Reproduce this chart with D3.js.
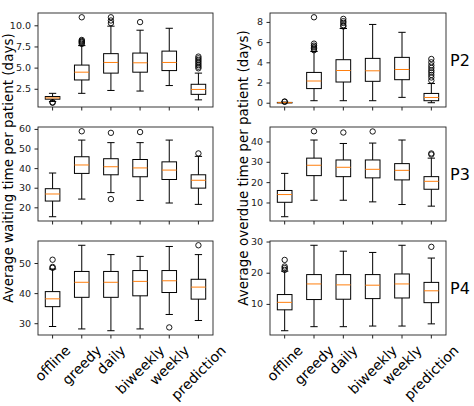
<!DOCTYPE html>
<html>
<head>
<meta charset="utf-8">
<script src="https://cdn.jsdelivr.net/npm/d3@7"></script>
<style>
  body { margin: 0; background: #fff; }
  text { font-family: "DejaVu Sans", sans-serif; }
</style>
</head>
<body>
<svg id="chart" width="474" height="406"></svg>
<script>
'use strict'

const categories = ['offline', 'greedy', 'daily', 'biweekly', 'weekly', 'prediction']
const rowNames = ['P2', 'P3', 'P4']

// [lower whisker, q1, median, q3, upper whisker] per category
const waitP2 = [[1.0, 1.27, 1.42, 1.58, 1.96], [1.96, 3.54, 4.46, 5.3, 7.6], [2.3, 4.35, 5.61, 6.65, 9.9],
                [2.23, 4.46, 5.57, 6.72, 9.42], [2.88, 4.65, 5.61, 6.95, 9.65], [1.19, 1.84, 2.42, 3.03, 4.35]]
const waitP2Fliers = [[0.9, 0.85], [7.8, 7.95, 8.05, 8.15, 8.27, 10.95], [10.26, 10.57, 10.95],
                      [10.38], [], [4.92, 5.1, 5.3, 5.5, 5.7, 5.9, 6.1, 6.3]]

const overP2 = [[0, 0, 0.01, 0.03, 0.06], [0.2, 1.4, 2.15, 3.0, 5.07], [0.2, 2.05, 3.19, 4.26, 7.35],
                [0.2, 2.12, 3.16, 4.39, 7.75], [0.53, 2.28, 3.29, 4.49, 6.97], [0, 0.2, 0.52, 0.92, 1.9]]
const overP2Fliers = [[0.09, 0.12], [5.2, 5.35, 5.5, 5.65, 5.85, 8.46], [7.55, 7.68, 7.9, 8.07, 8.3],
                      [], [], [2.2, 2.5, 2.75, 3.0, 3.2, 3.45, 3.7, 4.0, 4.33]]

const waitP3 = [[15.2, 23.2, 26.8, 29.5, 37.5], [24.2, 37.3, 41.6, 45.8, 54.3], [27.5, 36.6, 40.7, 44.8, 53.0],
                [23.5, 35.6, 40.1, 44.4, 53.0], [22.2, 34.2, 39.0, 43.2, 54.3], [21.5, 29.8, 33.8, 36.6, 46.0]]
const waitP3Fliers = [[], [58.8], [24.2, 58.0], [58.4], [], [47.5]]

const overP3 = [[3.0, 10.1, 13.9, 15.9, 24.3], [11.1, 23.2, 28.3, 31.8, 40.7], [11.1, 22.7, 27.3, 30.9, 39.0],
                [10.3, 22.1, 26.3, 30.9, 39.2], [9.0, 21.1, 25.8, 29.1, 40.7], [8.2, 16.5, 20.4, 22.7, 31.8]]
const overP3Fliers = [[], [45.0], [44.4], [44.9], [], [33.6, 34.1]]

const waitP4 = [[28.9, 35.5, 38.1, 40.5, 48.0], [28.1, 38.6, 43.6, 47.2, 55.9], [27.5, 38.6, 43.6, 47.2, 52.8],
                [28.1, 39.1, 43.9, 47.5, 52.2], [32.9, 40.2, 44.1, 47.5, 55.5], [30.9, 38.0, 42.0, 44.6, 52.8]]
const waitP4Fliers = [[48.4, 48.7, 51.1], [], [], [], [28.6], [55.9]]

const overP4 = [[1.4, 8.1, 10.5, 13.0, 20.5], [2.7, 11.4, 16.4, 19.4, 28.8], [2.7, 11.5, 16.1, 19.4, 26.9],
                [2.9, 11.7, 16.0, 19.4, 26.5], [2.9, 11.9, 16.4, 19.6, 28.8], [3.6, 10.4, 14.2, 16.9, 24.7]]
const overP4Fliers = [[20.9, 21.5, 22.0, 24.1], [], [], [], [], [28.3]]

const waitTicks = [[2.5, 5, 7.5, 10], [20, 30, 40, 50, 60], [30, 40, 50]]
const overTicks = [[0, 2, 4, 6, 8], [10, 20, 30, 40], [10, 20, 30]]

const svg = d3.select('#chart')

const cols = [{x0: 38, x1: 213}, {x0: 270, x1: 446}]
const rows = [{y0: 13, y1: 107}, {y0: 127, y1: 221}, {y0: 241, y1: 335}]

const panels = [
  {col: 0, row: 0, stats: waitP2, fliers: waitP2Fliers, ticks: waitTicks[0], fmt: d3.format('.1f')},
  {col: 1, row: 0, stats: overP2, fliers: overP2Fliers, ticks: overTicks[0], fmt: d3.format('d')},
  {col: 0, row: 1, stats: waitP3, fliers: waitP3Fliers, ticks: waitTicks[1], fmt: d3.format('d')},
  {col: 1, row: 1, stats: overP3, fliers: overP3Fliers, ticks: overTicks[1], fmt: d3.format('d')},
  {col: 0, row: 2, stats: waitP4, fliers: waitP4Fliers, ticks: waitTicks[2], fmt: d3.format('d')},
  {col: 1, row: 2, stats: overP4, fliers: overP4Fliers, ticks: overTicks[2], fmt: d3.format('d')},
]

const axisColor = '#222'

panels.forEach(p => {
  let c = cols[p.col], r = rows[p.row]
  let x = d3.scaleBand().domain(categories).range([c.x0, c.x1]).paddingInner(0).paddingOuter(0)
  // matplotlib style autoscale: data extent plus 5% margin
  let all = d3.merge([d3.merge(p.stats), d3.merge(p.fliers)])
  let [lo, hi] = d3.extent(all)
  let pad = (hi - lo) * 0.05
  let y = d3.scaleLinear().domain([lo - pad, hi + pad]).range([r.y1, r.y0])

  let g = svg.append('g')

  let yAxis = g.append('g').attr('transform', `translate(${c.x0},0)`)
    .call(d3.axisLeft(y).tickValues(p.ticks).tickFormat(p.fmt).tickSize(3.5).tickPadding(3.5))
  yAxis.select('.domain').remove()
  yAxis.selectAll('text').attr('font-size', 9.5).attr('fill', axisColor).style('font-family', '"DejaVu Sans", sans-serif')
  yAxis.selectAll('line').attr('stroke', axisColor)

  let xAxis = g.append('g').attr('transform', `translate(0,${r.y1})`)
    .call(d3.axisBottom(x).tickFormat('').tickSize(3.5))
  xAxis.select('.domain').remove()
  xAxis.selectAll('line').attr('stroke', axisColor)

  let bw = x.bandwidth() * 0.5
  let boxes = g.selectAll('.box').data(p.stats).enter().append('g').attr('class', 'box')
    .attr('transform', (d, i) => `translate(${x(categories[i]) + x.bandwidth() / 2},0)`)

  boxes.append('line').attr('x1', 0).attr('x2', 0)
    .attr('y1', d => y(d[0])).attr('y2', d => y(d[1])).attr('stroke', '#000')
  boxes.append('line').attr('x1', 0).attr('x2', 0)
    .attr('y1', d => y(d[3])).attr('y2', d => y(d[4])).attr('stroke', '#000')
  boxes.append('line').attr('x1', -bw / 4).attr('x2', bw / 4)
    .attr('y1', d => y(d[0])).attr('y2', d => y(d[0])).attr('stroke', '#000')
  boxes.append('line').attr('x1', -bw / 4).attr('x2', bw / 4)
    .attr('y1', d => y(d[4])).attr('y2', d => y(d[4])).attr('stroke', '#000')
  boxes.append('rect').attr('x', -bw / 2).attr('width', bw)
    .attr('y', d => y(d[3])).attr('height', d => Math.max(0.5, y(d[1]) - y(d[3])))
    .attr('fill', 'none').attr('stroke', '#000')
  boxes.append('line').attr('x1', -bw / 2).attr('x2', bw / 2)
    .attr('y1', d => y(d[2])).attr('y2', d => y(d[2])).attr('stroke', '#ff7f0e')

  boxes.each(function(d, i){
    d3.select(this).selectAll('circle').data(p.fliers[i]).enter().append('circle')
      .attr('cx', 0).attr('cy', v => y(v)).attr('r', 2.7)
      .attr('fill', 'none').attr('stroke', '#000').attr('stroke-width', 0.9)
  })

  // spines
  g.append('rect').attr('x', c.x0).attr('y', r.y0).attr('width', c.x1 - c.x0).attr('height', r.y1 - r.y0)
    .attr('fill', 'none').attr('stroke', axisColor).attr('stroke-width', 0.9)

  if(p.col == 1){
    g.append('text').attr('x', 450).attr('y', (r.y0 + r.y1) / 2).attr('dy', '0.36em')
      .attr('font-size', 16).attr('fill', '#000').text(rowNames[p.row])
  }

  if(p.row == 2){
    // rotated tick labels, centred under the tick like matplotlib rotation=45
    let fs = 14
    categories.forEach(cat => {
      let lg = g.append('g')
      let t = lg.append('text').attr('font-size', fs).attr('text-anchor', 'middle')
        .attr('dy', '0.35em').attr('fill', '#000').text(cat)
      let L = t.node().getComputedTextLength()
      let half = (L + fs) / (2 * Math.SQRT2)
      lg.attr('transform', `translate(${x(cat) + x.bandwidth() / 2},${r.y1 + 8 + half}) rotate(-45)`)
    })
  }
})

svg.append('text').attr('transform', `translate(8,168) rotate(-90)`)
  .attr('text-anchor', 'middle').attr('font-size', 13.5).attr('dy', '0.35em')
  .text('Average waiting time per patient (days)')
svg.append('text').attr('transform', `translate(243,168) rotate(-90)`)
  .attr('text-anchor', 'middle').attr('font-size', 13.5).attr('dy', '0.35em')
  .text('Average overdue time per patient (days)')
</script>
</body>
</html>
